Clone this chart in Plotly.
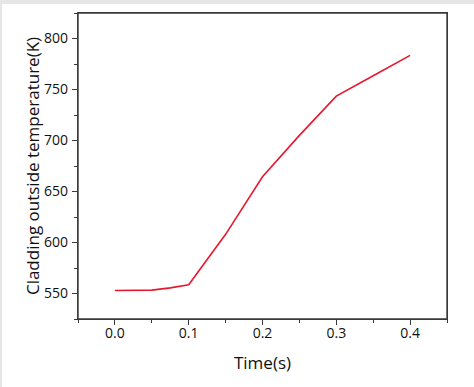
import plotly.graph_objects as go

time_s = [0.0, 0.05, 0.075, 0.1, 0.15, 0.2, 0.25, 0.3, 0.35, 0.4]
temp_k = [553, 553.3, 555.5, 558.5, 608, 664.5, 705, 743.5, 763.5, 783.5]

y_ticks = [550, 600, 650, 700, 750, 800]
x_ticks = [0.0, 0.1, 0.2, 0.3, 0.4]
x_tick_labels = ["0.0", "0.1", "0.2", "0.3", "0.4"]

FONT = "Open Sans"

fig = go.Figure()
fig.add_trace(go.Scatter(
    x=time_s, y=temp_k, mode="lines",
    line=dict(color="#e8162e", width=1.6),
    showlegend=False,
))

axis_common = dict(
    showgrid=False, zeroline=False, showline=True, linecolor="#3a3a3a", linewidth=1.4,
    mirror=True, ticks="outside", ticklen=5, tickwidth=1.2, tickcolor="#3a3a3a",
    tickfont=dict(family=FONT, size=14, color="#111"), automargin=False,
)

fig.update_xaxes(
    range=[-0.05, 0.45], tickmode="array", tickvals=x_ticks, ticktext=x_tick_labels,
    minor=dict(ticks="outside", ticklen=3, tickwidth=1.2, tickcolor="#3a3a3a", dtick=0.05, tick0=-0.05),
    title=dict(text="Time(s)", font=dict(family=FONT, size=17, color="#111"), standoff=16),
    ticklabelstandoff=-4,
    **axis_common,
)
fig.update_yaxes(
    range=[525, 825], tickmode="array", tickvals=y_ticks,
    minor=dict(ticks="outside", ticklen=3, tickwidth=1.2, tickcolor="#3a3a3a", dtick=25, tick0=525),
    title=dict(text="Cladding outside temperature(K)", font=dict(family=FONT, size=17, color="#111"), standoff=0),
    ticklabelstandoff=1,
    **axis_common,
)

# plot frame (top/right edges drawn explicitly as well)
fig.add_shape(type="rect", xref="paper", yref="paper", x0=0, x1=1, y0=0, y1=1,
              fillcolor="rgba(0,0,0,0)", line=dict(color="#3a3a3a", width=1.4), layer="above")
# light gray scan border at top and left of the image
fig.add_shape(type="rect", xref="paper", yref="paper", x0=-0.22, x1=1.1, y0=1.0294, y1=1.05,
              fillcolor="#e6e6e6", line=dict(width=0), layer="below")
fig.add_shape(type="rect", xref="paper", yref="paper", x0=-0.22, x1=-0.2060, y0=-0.3, y1=1.05,
              fillcolor="#e6e6e6", line=dict(width=0), layer="below")

fig.update_layout(
    width=474, height=387,
    margin=dict(l=78, r=27, t=13, b=68),
    paper_bgcolor="white", plot_bgcolor="white",
    font=dict(family=FONT),
)

fig.write_html("out.html", config={"displayModeBar": False},
               post_script="document.body.style.margin='0';document.body.style.padding='0';")
